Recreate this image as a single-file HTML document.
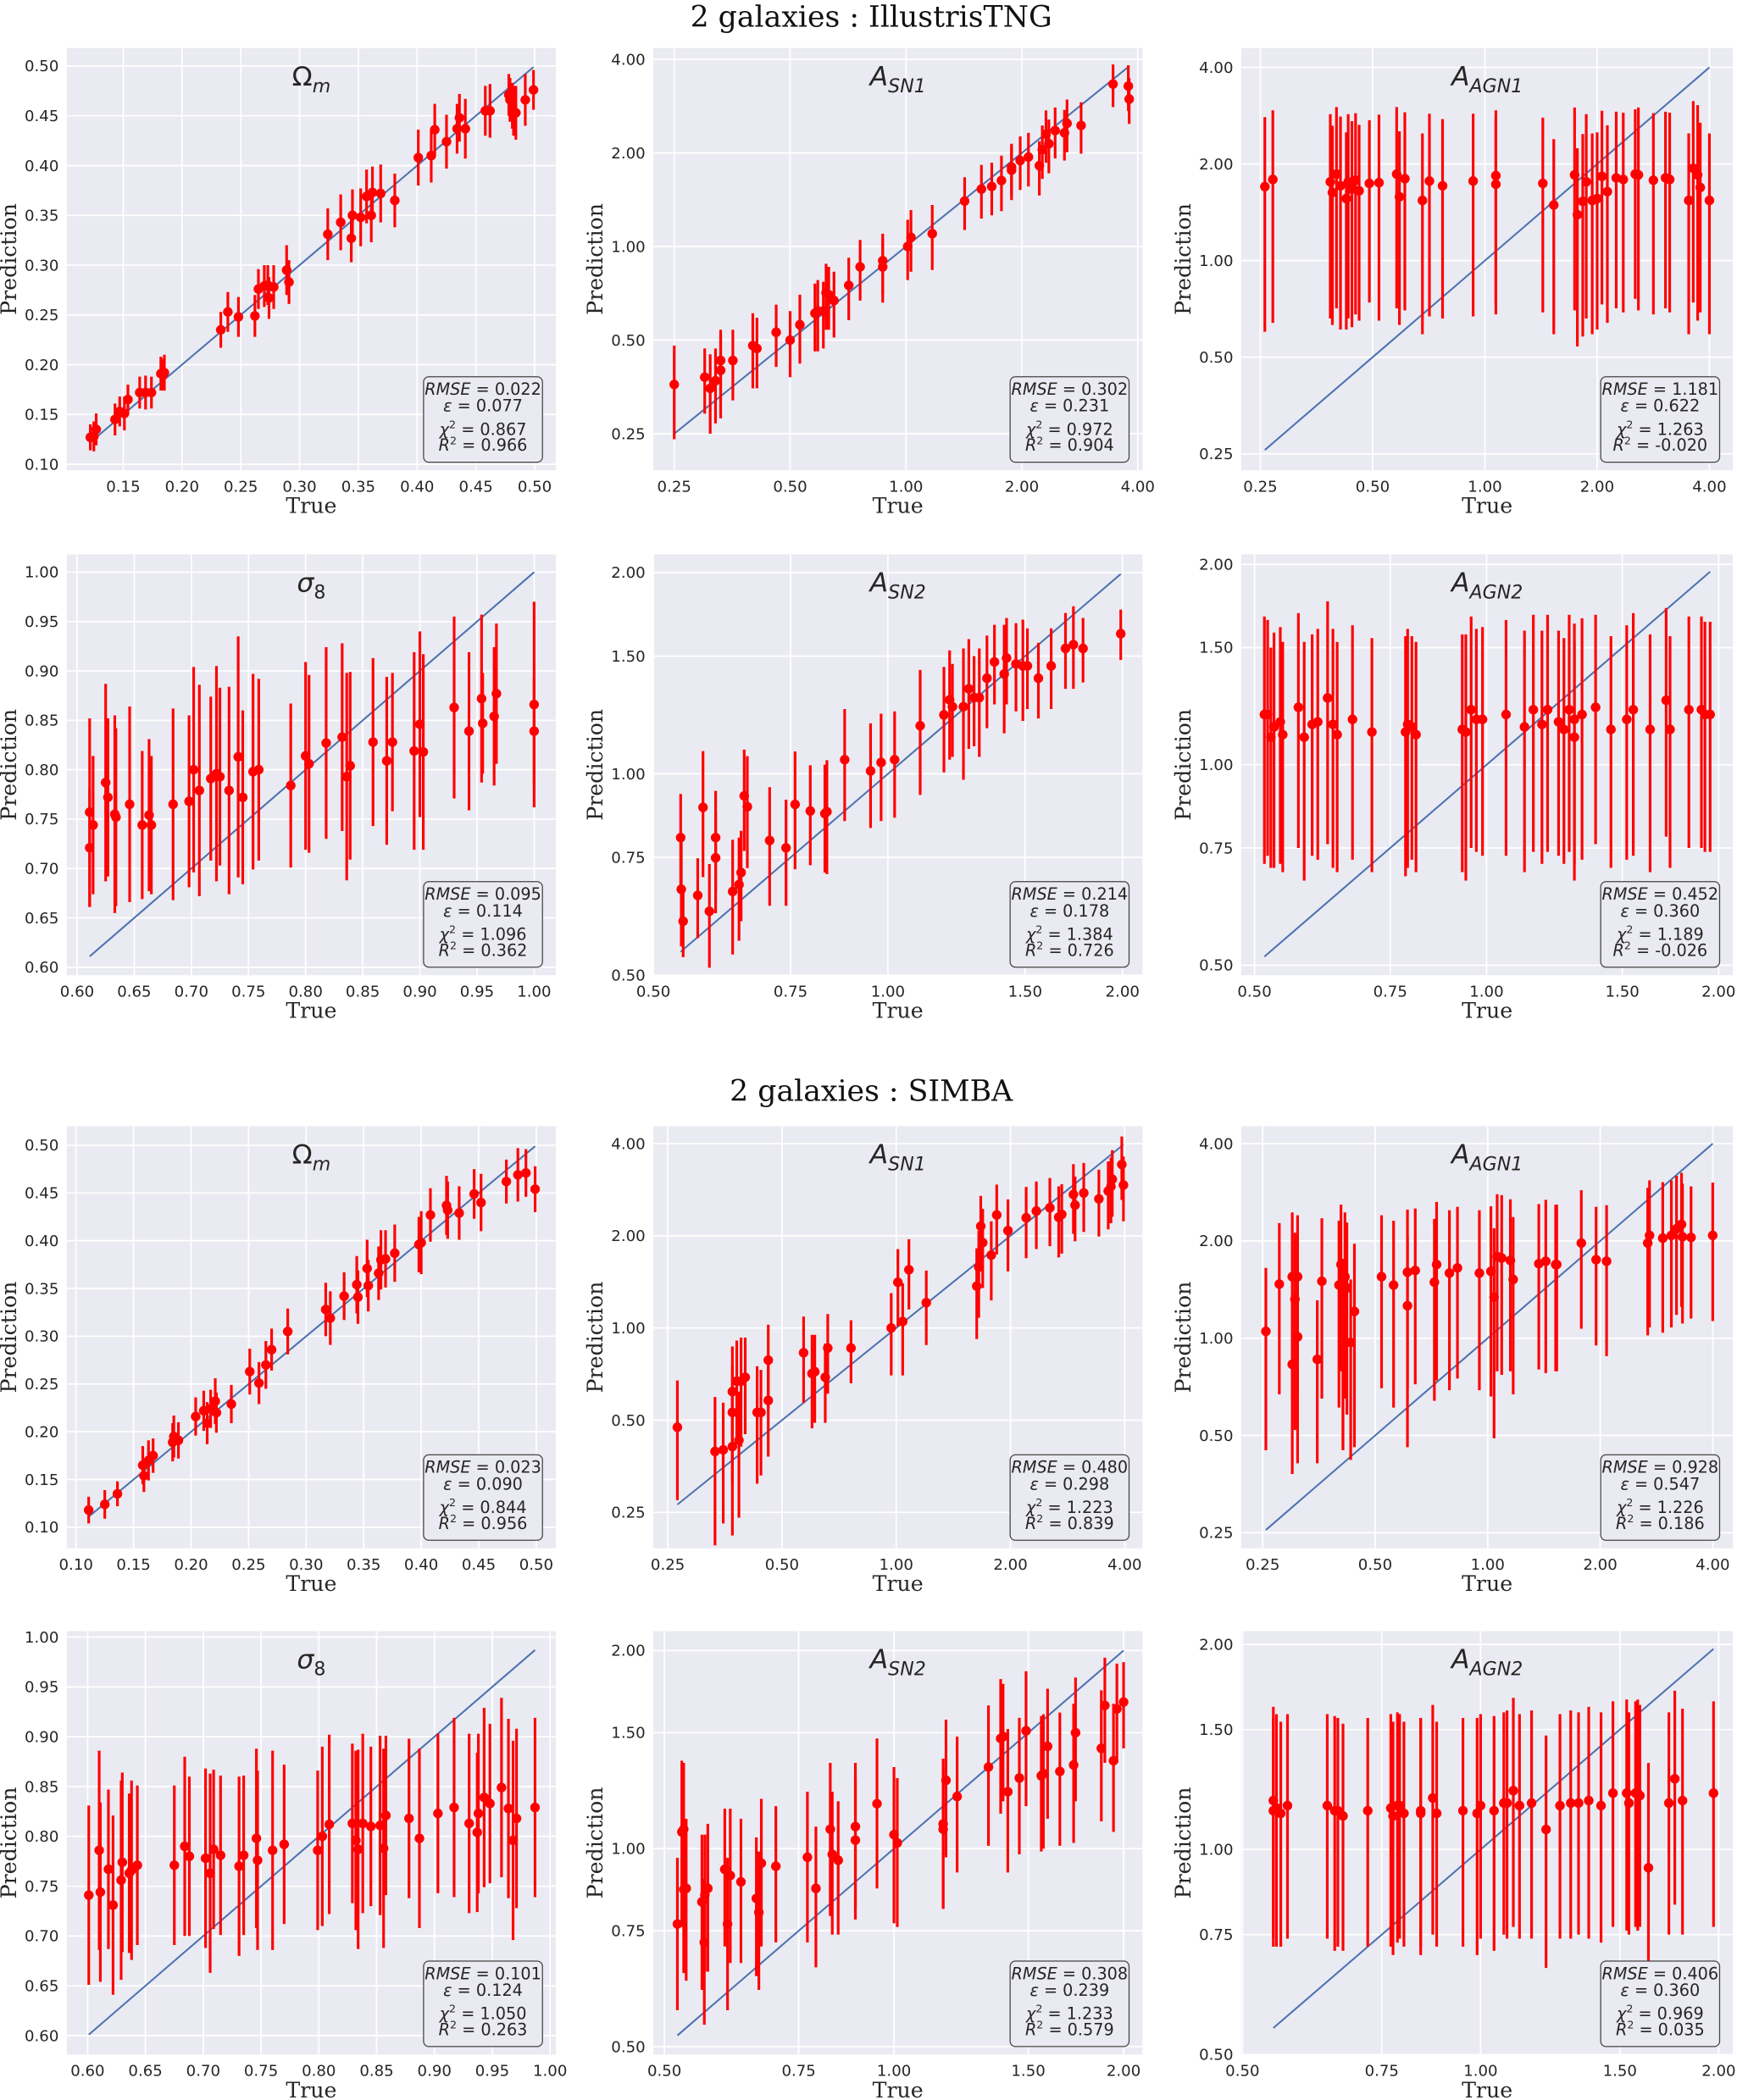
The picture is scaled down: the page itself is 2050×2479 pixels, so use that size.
<!DOCTYPE html>
<html><head><meta charset="utf-8">
<style>
html,body{margin:0;padding:0;background:#fff;}
svg{display:block;}
</style></head>
<body>
<svg id="fig" xmlns="http://www.w3.org/2000/svg" width="2050" height="2479" viewBox="0 0 1300 1572" preserveAspectRatio="none">
<text x="652" y="20" text-anchor="middle" font-family="DejaVu Serif, Liberation Serif, serif" font-size="22" fill="#111">2 galaxies : IllustrisTNG</text>
<text x="652" y="824" text-anchor="middle" font-family="DejaVu Serif, Liberation Serif, serif" font-size="22" fill="#111">2 galaxies : SIMBA</text>
</svg>
<script>
// ---------- DATA ----------
const tngOmTrue=[0.122,0.125,0.127,0.143,0.147,0.151,0.154,0.164,0.169,0.174,0.182,0.184,0.185,0.233,0.239,0.248,0.262,0.265,0.27,0.273,0.274,0.278,0.289,0.291,0.324,0.335,0.344,0.345,0.352,0.357,0.361,0.362,0.369,0.381,0.401,0.412,0.415,0.425,0.434,0.436,0.441,0.458,0.462,0.478,0.479,0.481,0.482,0.484,0.492,0.499];
const tngOmPred=[0.127,0.128,0.135,0.145,0.153,0.151,0.165,0.172,0.172,0.172,0.191,0.19,0.192,0.235,0.253,0.248,0.249,0.276,0.279,0.28,0.267,0.278,0.295,0.283,0.331,0.343,0.327,0.35,0.348,0.369,0.35,0.373,0.372,0.365,0.408,0.41,0.436,0.424,0.437,0.448,0.437,0.455,0.455,0.471,0.466,0.46,0.455,0.453,0.466,0.476];
const tngOmErr=[0.013,0.015,0.016,0.016,0.015,0.017,0.015,0.016,0.017,0.016,0.017,0.016,0.018,0.018,0.02,0.02,0.021,0.02,0.021,0.02,0.021,0.022,0.025,0.022,0.026,0.028,0.024,0.026,0.029,0.027,0.027,0.026,0.029,0.027,0.028,0.027,0.026,0.027,0.025,0.024,0.03,0.025,0.027,0.021,0.022,0.023,0.025,0.027,0.026,0.02];

const tngSN1True=[0.25,0.30,0.31,0.32,0.33,0.33,0.355,0.40,0.41,0.46,0.50,0.53,0.58,0.59,0.61,0.62,0.63,0.65,0.71,0.76,0.87,0.87,1.01,1.03,1.17,1.42,1.57,1.67,1.77,1.88,1.88,1.98,2.08,2.22,2.26,2.35,2.31,2.44,2.58,2.62,2.85,3.45,3.78,3.80];
const tngSN1Pred=[0.36,0.38,0.35,0.37,0.43,0.40,0.43,0.48,0.47,0.53,0.50,0.56,0.61,0.62,0.62,0.71,0.70,0.67,0.75,0.86,0.86,0.90,1.0,1.07,1.10,1.40,1.53,1.56,1.63,1.76,1.80,1.89,1.94,1.82,2.05,2.14,2.30,2.36,2.32,2.49,2.45,3.33,3.28,2.98];
const tngSN1Err=[0.12,0.09,0.1,0.1,0.11,0.12,0.11,0.13,0.12,0.12,0.12,0.14,0.15,0.16,0.15,0.17,0.16,0.16,0.17,0.19,0.2,0.2,0.22,0.24,0.26,0.27,0.3,0.3,0.33,0.35,0.34,0.37,0.38,0.36,0.4,0.42,0.44,0.44,0.43,0.48,0.46,0.52,0.55,0.5];

const tngAGN1True=[0.257,0.27,0.385,0.39,0.40,0.41,0.425,0.43,0.44,0.45,0.46,0.49,0.52,0.58,0.59,0.61,0.68,0.71,0.77,0.93,1.07,1.07,1.43,1.53,1.74,1.77,1.83,1.87,1.94,2.0,2.06,2.13,2.25,2.35,2.53,2.58,2.83,3.05,3.13,3.52,3.62,3.72,3.78,4.0];
const tngAGN1Pred=[1.70,1.79,1.76,1.63,1.86,1.71,1.56,1.76,1.67,1.78,1.65,1.74,1.75,1.86,1.58,1.80,1.54,1.77,1.71,1.77,1.84,1.73,1.74,1.49,1.85,1.39,1.53,1.76,1.54,1.56,1.83,1.64,1.81,1.79,1.86,1.85,1.78,1.81,1.79,1.54,1.94,1.85,1.69,1.54];
const tngAGN1Err=[1.1,1.15,1.1,1.0,1.15,1.1,0.95,1.1,1.05,1.1,1.0,1.0,1.1,1.15,0.95,1.1,0.95,1.1,1.05,1.1,1.1,1.05,1.05,0.9,1.15,0.85,0.95,1.1,0.95,0.95,1.1,1.0,1.1,1.1,1.1,1.15,1.1,1.1,1.1,0.95,1.2,1.2,1.0,0.95];

const tngS8True=[0.611,0.611,0.614,0.625,0.627,0.633,0.634,0.646,0.657,0.663,0.665,0.684,0.698,0.702,0.707,0.717,0.722,0.725,0.733,0.741,0.745,0.754,0.759,0.787,0.8,0.803,0.818,0.832,0.836,0.839,0.859,0.871,0.876,0.895,0.9,0.903,0.93,0.943,0.954,0.955,0.965,0.967,1.0,1.0];
const tngS8Pred=[0.757,0.721,0.744,0.787,0.772,0.755,0.752,0.765,0.744,0.754,0.744,0.765,0.768,0.80,0.779,0.791,0.796,0.793,0.779,0.813,0.772,0.798,0.80,0.784,0.814,0.806,0.827,0.833,0.793,0.804,0.828,0.809,0.828,0.819,0.846,0.818,0.863,0.839,0.872,0.847,0.854,0.877,0.866,0.839];
const tngS8Err=[0.095,0.06,0.07,0.10,0.08,0.10,0.09,0.099,0.075,0.077,0.07,0.097,0.087,0.104,0.107,0.083,0.109,0.09,0.105,0.122,0.088,0.099,0.092,0.083,0.095,0.09,0.097,0.095,0.105,0.095,0.085,0.085,0.07,0.1,0.094,0.099,0.092,0.08,0.085,0.051,0.07,0.071,0.104,0.054];

const tngSN2True=[0.542,0.543,0.546,0.57,0.579,0.59,0.601,0.601,0.632,0.644,0.648,0.654,0.66,0.705,0.74,0.76,0.795,0.83,0.835,0.88,0.95,0.98,1.02,1.1,1.18,1.2,1.21,1.25,1.27,1.29,1.31,1.34,1.37,1.41,1.42,1.46,1.49,1.51,1.56,1.62,1.69,1.73,1.78,1.99];
const tngSN2Pred=[0.803,0.672,0.602,0.658,0.891,0.623,0.749,0.803,0.667,0.683,0.712,0.927,0.893,0.795,0.775,0.90,0.88,0.872,0.878,1.05,1.01,1.04,1.05,1.18,1.225,1.29,1.26,1.26,1.34,1.3,1.3,1.39,1.47,1.41,1.49,1.46,1.45,1.45,1.39,1.45,1.54,1.56,1.54,1.62];
const tngSN2Err=[0.13,0.12,0.07,0.09,0.19,0.11,0.13,0.14,0.13,0.12,0.11,0.16,0.17,0.16,0.14,0.18,0.15,0.16,0.17,0.2,0.18,0.19,0.19,0.25,0.22,0.24,0.2,0.28,0.25,0.2,0.24,0.22,0.2,0.26,0.22,0.22,0.25,0.2,0.18,0.2,0.2,0.22,0.17,0.14];

const tngAGN2True=[0.515,0.52,0.525,0.53,0.54,0.544,0.57,0.58,0.594,0.604,0.622,0.632,0.64,0.67,0.71,0.785,0.79,0.80,0.81,0.93,0.94,0.955,0.97,0.988,1.06,1.12,1.15,1.18,1.2,1.24,1.26,1.28,1.3,1.3,1.33,1.385,1.45,1.52,1.55,1.63,1.71,1.73,1.83,1.9,1.92,1.95];
const tngAGN2Pred=[1.19,1.19,1.10,1.14,1.16,1.11,1.22,1.10,1.15,1.16,1.26,1.15,1.11,1.17,1.12,1.12,1.15,1.14,1.11,1.13,1.12,1.21,1.17,1.17,1.19,1.14,1.21,1.15,1.21,1.16,1.13,1.21,1.17,1.10,1.19,1.22,1.13,1.17,1.21,1.13,1.25,1.13,1.21,1.21,1.19,1.19];
const tngAGN2Err=[0.48,0.46,0.4,0.44,0.45,0.42,0.47,0.43,0.42,0.44,0.5,0.45,0.42,0.45,0.43,0.44,0.45,0.42,0.42,0.44,0.45,0.46,0.43,0.44,0.46,0.45,0.47,0.44,0.47,0.43,0.42,0.47,0.46,0.43,0.47,0.46,0.43,0.45,0.48,0.44,0.47,0.43,0.46,0.46,0.45,0.45];

const simOmTrue=[0.111,0.125,0.136,0.158,0.159,0.163,0.167,0.184,0.185,0.189,0.204,0.211,0.214,0.217,0.221,0.222,0.235,0.251,0.259,0.265,0.27,0.284,0.317,0.321,0.333,0.344,0.345,0.353,0.354,0.363,0.365,0.369,0.377,0.398,0.4,0.408,0.422,0.423,0.433,0.446,0.452,0.474,0.484,0.491,0.499];
const simOmPred=[0.118,0.124,0.135,0.165,0.154,0.17,0.175,0.189,0.195,0.191,0.216,0.222,0.209,0.224,0.232,0.22,0.229,0.263,0.251,0.27,0.286,0.305,0.328,0.319,0.342,0.354,0.341,0.371,0.353,0.366,0.38,0.381,0.387,0.396,0.398,0.427,0.437,0.432,0.429,0.449,0.44,0.462,0.469,0.471,0.454];
const simOmErr=[0.014,0.015,0.013,0.02,0.017,0.021,0.018,0.02,0.022,0.019,0.02,0.021,0.022,0.02,0.024,0.021,0.02,0.024,0.022,0.025,0.022,0.024,0.028,0.028,0.025,0.03,0.028,0.03,0.027,0.028,0.031,0.03,0.03,0.029,0.033,0.028,0.031,0.03,0.028,0.026,0.03,0.023,0.028,0.025,0.024];

const simSN1True=[0.265,0.333,0.35,0.37,0.37,0.37,0.38,0.385,0.39,0.40,0.43,0.44,0.46,0.46,0.57,0.60,0.61,0.65,0.66,0.76,0.97,1.01,1.04,1.08,1.2,1.63,1.65,1.67,1.69,1.78,1.84,1.97,2.2,2.34,2.54,2.68,2.73,2.93,2.96,3.12,3.42,3.62,3.68,3.71,3.93,3.97];
const simSN1Pred=[0.474,0.395,0.40,0.41,0.62,0.53,0.67,0.43,0.67,0.69,0.53,0.53,0.58,0.785,0.83,0.71,0.72,0.69,0.86,0.86,1.0,1.41,1.05,1.55,1.21,1.37,1.58,2.15,1.90,1.73,2.34,2.08,2.29,2.41,2.47,2.3,2.35,2.73,2.52,2.76,2.64,2.8,2.9,3.06,3.42,2.93];
const simSN1Err=[0.2,0.2,0.17,0.2,0.25,0.22,0.24,0.19,0.26,0.24,0.22,0.2,0.2,0.24,0.26,0.24,0.23,0.2,0.25,0.2,0.3,0.4,0.35,0.4,0.33,0.45,0.5,0.55,0.55,0.5,0.6,0.55,0.6,0.6,0.62,0.6,0.6,0.7,0.6,0.7,0.65,0.7,0.7,0.75,0.8,0.7];

const simAGN1True=[0.255,0.277,0.30,0.30,0.305,0.31,0.31,0.35,0.36,0.40,0.405,0.41,0.41,0.415,0.42,0.43,0.44,0.52,0.56,0.61,0.61,0.64,0.72,0.73,0.79,0.83,0.95,1.02,1.04,1.06,1.09,1.15,1.17,1.37,1.43,1.52,1.53,1.78,1.95,2.08,2.68,2.71,2.94,3.1,3.2,3.3,3.32,3.5,4.0];
const simAGN1Pred=[1.05,1.47,0.83,1.55,1.32,1.55,1.01,0.86,1.50,1.46,1.69,1.11,1.05,1.55,1.43,0.97,1.21,1.55,1.46,1.60,1.26,1.62,1.49,1.69,1.59,1.65,1.59,1.61,1.34,1.79,1.77,1.74,1.52,1.70,1.73,1.69,1.69,1.97,1.75,1.73,1.97,2.08,2.04,2.08,2.18,2.25,2.06,2.05,2.08];
const simAGN1Err=[0.6,0.8,0.45,0.9,0.8,0.85,0.6,0.45,0.85,0.85,0.9,0.65,0.6,0.9,0.85,0.55,0.75,0.85,0.85,0.9,0.8,0.9,0.85,0.95,0.9,0.9,0.9,0.95,0.85,1.0,1.0,0.95,0.85,0.9,0.95,0.9,0.9,0.9,0.8,0.85,0.95,1.0,1.0,1.0,1.0,1.0,0.95,0.9,0.95];

const simS8True=[0.601,0.61,0.611,0.618,0.622,0.629,0.63,0.636,0.638,0.643,0.675,0.684,0.688,0.702,0.706,0.709,0.715,0.731,0.735,0.746,0.747,0.76,0.77,0.799,0.803,0.809,0.829,0.832,0.834,0.838,0.845,0.853,0.856,0.858,0.878,0.887,0.903,0.917,0.93,0.937,0.938,0.943,0.948,0.958,0.964,0.968,0.971,0.987];
const simS8Pred=[0.741,0.786,0.744,0.767,0.731,0.756,0.774,0.763,0.766,0.771,0.771,0.79,0.78,0.778,0.763,0.787,0.781,0.77,0.781,0.798,0.776,0.786,0.792,0.786,0.80,0.812,0.813,0.796,0.787,0.813,0.81,0.811,0.788,0.821,0.818,0.798,0.823,0.829,0.813,0.804,0.823,0.839,0.833,0.849,0.828,0.796,0.818,0.829];
const simS8Err=[0.09,0.1,0.09,0.08,0.09,0.1,0.09,0.08,0.09,0.08,0.08,0.09,0.08,0.09,0.1,0.08,0.08,0.09,0.08,0.09,0.09,0.1,0.08,0.08,0.09,0.09,0.08,0.09,0.1,0.09,0.08,0.09,0.1,0.08,0.08,0.09,0.08,0.09,0.09,0.08,0.08,0.09,0.08,0.09,0.09,0.1,0.09,0.09];

const simSN2True=[0.52,0.527,0.53,0.53,0.534,0.56,0.564,0.565,0.57,0.60,0.605,0.61,0.63,0.66,0.665,0.67,0.70,0.77,0.79,0.825,0.83,0.845,0.89,0.89,0.95,1.0,1.01,1.16,1.16,1.17,1.21,1.33,1.38,1.39,1.41,1.46,1.49,1.56,1.57,1.59,1.65,1.72,1.73,1.87,1.89,1.94,1.96,2.0];
const simSN2Pred=[0.768,1.06,1.07,0.867,0.87,0.83,0.72,0.85,0.87,0.93,0.768,0.91,0.89,0.84,0.80,0.95,0.94,0.97,0.87,1.07,0.98,0.96,1.08,1.03,1.17,1.05,1.02,1.09,1.07,1.27,1.2,1.33,1.47,1.48,1.22,1.28,1.51,1.29,1.30,1.43,1.31,1.34,1.5,1.42,1.65,1.36,1.63,1.67];
const simSN2Err=[0.2,0.3,0.28,0.22,0.24,0.22,0.18,0.2,0.22,0.22,0.2,0.24,0.22,0.2,0.19,0.24,0.22,0.25,0.21,0.28,0.24,0.22,0.27,0.25,0.3,0.28,0.26,0.28,0.26,0.3,0.28,0.32,0.34,0.3,0.3,0.3,0.35,0.3,0.3,0.32,0.3,0.32,0.32,0.32,0.3,0.3,0.28,0.25];

const simAGN2True=[0.547,0.547,0.552,0.559,0.57,0.64,0.654,0.66,0.67,0.72,0.77,0.775,0.785,0.79,0.80,0.84,0.84,0.87,0.88,0.95,0.99,1.0,1.04,1.07,1.08,1.1,1.12,1.16,1.21,1.26,1.30,1.33,1.37,1.42,1.47,1.53,1.54,1.57,1.58,1.59,1.63,1.73,1.76,1.8,1.97];
const simAGN2Pred=[1.18,1.14,1.15,1.13,1.16,1.16,1.14,1.14,1.12,1.14,1.15,1.12,1.16,1.16,1.13,1.14,1.13,1.19,1.13,1.14,1.13,1.16,1.14,1.17,1.17,1.22,1.16,1.17,1.07,1.16,1.17,1.17,1.18,1.16,1.21,1.21,1.17,1.21,1.21,1.20,0.94,1.17,1.27,1.18,1.21];
const simAGN2Err=[0.44,0.42,0.43,0.41,0.42,0.42,0.43,0.42,0.41,0.42,0.43,0.42,0.43,0.42,0.41,0.42,0.43,0.44,0.41,0.42,0.43,0.42,0.43,0.42,0.43,0.45,0.42,0.43,0.4,0.42,0.43,0.42,0.44,0.43,0.44,0.45,0.42,0.44,0.45,0.43,0.4,0.42,0.44,0.43,0.44];

const linTicksOm1=[0.10,0.15,0.20,0.25,0.30,0.35,0.40,0.45,0.50];
const linTicksS8=[0.60,0.65,0.70,0.75,0.80,0.85,0.90,0.95,1.00];
const logTicks1=[0.25,0.5,1,2,4];
const logTicks2=[0.5,0.75,1,1.5,2];

const statsTNG=[["0.022","0.077","0.867","0.966"],["0.302","0.231","0.972","0.904"],["1.181","0.622","1.263","-0.020"],["0.095","0.114","1.096","0.362"],["0.214","0.178","1.384","0.726"],["0.452","0.360","1.189","-0.026"]];
const statsSIM=[["0.023","0.090","0.844","0.956"],["0.480","0.298","1.223","0.839"],["0.928","0.547","1.226","0.186"],["0.101","0.124","1.050","0.263"],["0.308","0.239","1.233","0.579"],["0.406","0.360","0.969","0.035"]];

// ---------- LAYOUT ----------
const NS="http://www.w3.org/2000/svg";
const svg=document.getElementById('fig');
const colX=[[50,416],[489,855],[929,1297]];
const rowY=[[36,352],[415,730],[843,1159],[1221,1538]];
const P=Math.pow;
const panels=[
 {r:0,c:0,t:tngOmTrue,p:tngOmPred,e:tngOmErr,log:false,xl:[0.102,0.518],yl:[0.094,0.518],xt:linTicksOm1.slice(1),yt:linTicksOm1,title:'om',st:statsTNG[0],nm:'tng-omega-m'},
 {r:0,c:1,t:tngSN1True,p:tngSN1Pred,e:tngSN1Err,log:true,xl:[P(2,-2.18),P(2,2.04)],yl:[P(2,-2.39),P(2,2.12)],xt:logTicks1,yt:logTicks1,title:'SN1',st:statsTNG[1],nm:'tng-a-sn1'},
 {r:0,c:2,t:tngAGN1True,p:tngAGN1Pred,e:tngAGN1Err,log:true,xl:[P(2,-2.17),P(2,2.21)],yl:[P(2,-2.17),P(2,2.2)],xt:logTicks1,yt:logTicks1,title:'AGN1',st:statsTNG[2],nm:'tng-a-agn1'},
 {r:1,c:0,t:tngS8True,p:tngS8Pred,e:tngS8Err,log:false,xl:[0.591,1.019],yl:[0.592,1.018],xt:linTicksS8,yt:linTicksS8,title:'s8',st:statsTNG[3],nm:'tng-sigma-8'},
 {r:1,c:1,t:tngSN2True,p:tngSN2Pred,e:tngSN2Err,log:true,xl:[P(2,-1),P(2,1.085)],yl:[P(2,-1),P(2,1.09)],xt:logTicks2,yt:logTicks2,title:'SN2',st:statsTNG[4],nm:'tng-a-sn2'},
 {r:1,c:2,t:tngAGN2True,p:tngAGN2Pred,e:tngAGN2Err,log:true,xl:[P(2,-1.057),P(2,1.062)],yl:[P(2,-1.05),P(2,1.05)],xt:logTicks2,yt:logTicks2,title:'AGN2',st:statsTNG[5],nm:'tng-a-agn2'},
 {r:2,c:0,t:simOmTrue,p:simOmPred,e:simOmErr,log:false,xl:[0.092,0.517],yl:[0.078,0.52],xt:linTicksOm1,yt:linTicksOm1,title:'om',st:statsSIM[0],nm:'simba-omega-m'},
 {r:2,c:1,t:simSN1True,p:simSN1Pred,e:simSN1Err,log:true,xl:[P(2,-2.126),P(2,2.155)],yl:[P(2,-2.39),P(2,2.19)],xt:logTicks1,yt:logTicks1,title:'SN1',st:statsSIM[1],nm:'simba-a-sn1'},
 {r:2,c:2,t:simAGN1True,p:simAGN1Pred,e:simAGN1Err,log:true,xl:[P(2,-2.19),P(2,2.18)],yl:[P(2,-2.16),P(2,2.18)],xt:logTicks1,yt:logTicks1,title:'AGN1',st:statsSIM[2],nm:'simba-a-agn1'},
 {r:3,c:0,t:simS8True,p:simS8Pred,e:simS8Err,log:false,xl:[0.582,1.005],yl:[0.581,1.006],xt:linTicksS8,yt:linTicksS8,title:'s8',st:statsSIM[3],nm:'simba-sigma-8'},
 {r:3,c:1,t:simSN2True,p:simSN2Pred,e:simSN2Err,log:true,xl:[P(2,-1.048),P(2,1.082)],yl:[P(2,-1.04),P(2,1.098)],xt:logTicks2,yt:logTicks2,title:'SN2',st:statsSIM[4],nm:'simba-a-sn2'},
 {r:3,c:2,t:simAGN2True,p:simAGN2Pred,e:simAGN2Err,log:true,xl:[P(2,-1.005),P(2,1.06)],yl:[P(2,-1),P(2,1.065)],xt:logTicks2,yt:logTicks2,title:'AGN2',st:statsSIM[5],nm:'simba-a-agn2'}
];

function mk(tag,attrs,parent){const el=document.createElementNS(NS,tag);for(const k in attrs)el.setAttribute(k,attrs[k]);(parent||svg).appendChild(el);return el;}
const SANS='DejaVu Sans, Liberation Sans, sans-serif';
const SERIF='DejaVu Serif, Liberation Serif, serif';

panels.forEach((pn,idx)=>{
  const [x0,x1]=colX[pn.c],[y0,y1]=rowY[pn.r];
  const tf=v=>pn.log?Math.log(v):v;
  const sx=v=>x0+(tf(v)-tf(pn.xl[0]))/(tf(pn.xl[1])-tf(pn.xl[0]))*(x1-x0);
  const sy=v=>y1-(tf(v)-tf(pn.yl[0]))/(tf(pn.yl[1])-tf(pn.yl[0]))*(y1-y0);
  const g=mk('g',{});
  
  
  const bg=mk('rect',{x:x0,y:y0,width:x1-x0,height:y1-y0,fill:'#EAEAF2'},g);
  
  
  const cp=mk('clipPath',{id:'cp'+idx},g);
  mk('rect',{x:x0,y:y0,width:x1-x0,height:y1-y0},cp);
  pn.xt.forEach(v=>{const X=sx(v);
    const gl=mk('line',{x1:X,x2:X,y1:y0,y2:y1,stroke:'#fff','stroke-width':1.1},g);
    
    
    const tl=mk('text',{x:X,y:y1+16,'text-anchor':'middle','font-family':SANS,'font-size':11.5,fill:'#262626'},g);
    tl.textContent=v.toFixed(2);
    
    
  });
  pn.yt.forEach(v=>{const Y=sy(v);
    const gl=mk('line',{x1:x0,x2:x1,y1:Y,y2:Y,stroke:'#fff','stroke-width':1.1},g);
    
    
    const tl=mk('text',{x:x0-6,y:Y+4,'text-anchor':'end','font-family':SANS,'font-size':11.5,fill:'#262626'},g);
    tl.textContent=v.toFixed(2);
    
    
  });
  const lo=Math.min(...pn.t),hi=Math.max(...pn.t);
  const dl=mk('line',{x1:sx(lo),y1:sy(lo),x2:sx(hi),y2:sy(hi),stroke:'#4C72B0','stroke-width':1.3},g);
  
  
  const mg=mk('g',{'clip-path':'url(#cp'+idx+')'},g);
  
  
  pn.t.forEach((tv,i)=>{
    const pv=pn.p[i],ev=pn.e[i];
    const top=pv+ev,bot=Math.max(pv-ev,pn.yl[0]*0.5);
    const X=sx(tv);
    const eb=mk('line',{x1:X,x2:X,y1:sy(top),y2:sy(bot),stroke:'#ff0000','stroke-width':2},mg);
    
    
    const pt=mk('circle',{cx:X,cy:sy(pv),r:3.6,fill:'#ff0000'},mg);
    
    
  });
  const cx=(x0+x1)/2, ty=y0+28;
  const tt=mk('text',{x:cx,y:ty,'text-anchor':'middle','font-family':SANS,'font-size':20,fill:'#262626'},g);
  
  
  if(pn.title==='om'){tt.innerHTML='Ω<tspan font-style="italic" font-size="14" dy="5">m</tspan>';}
  else if(pn.title==='s8'){tt.innerHTML='<tspan font-style="italic">σ</tspan><tspan font-size="14" dy="5">8</tspan>';}
  else {tt.innerHTML='<tspan font-style="italic">A</tspan><tspan font-style="italic" font-size="14" dy="5">'+pn.title+'</tspan>';}
  const xl=mk('text',{x:cx,y:y1+32,'text-anchor':'middle','font-family':SERIF,'font-size':16,fill:'#262626'},g);
  xl.textContent='True';
  
  
  const ylx=x0-38, yly=(y0+y1)/2;
  const yl=mk('text',{x:ylx,y:yly,'text-anchor':'middle','font-family':SERIF,'font-size':16,fill:'#262626',transform:'rotate(-90 '+ylx+' '+yly+')'},g);
  yl.textContent='Prediction';
  
  
  const bx=x1-99,by=y1-70,bw=89,bh=64;
  const sb=mk('g',{},g);
  
  
  mk('rect',{x:bx,y:by,width:bw,height:bh,rx:4,fill:'#EAEAF2',stroke:'#444','stroke-width':0.8},sb);
  const lines=[
    '<tspan font-style="italic">RMSE</tspan> = '+pn.st[0],
    '<tspan font-style="italic">ε</tspan> = '+pn.st[1],
    '<tspan font-style="italic">χ</tspan><tspan font-size="8" dy="-5">2</tspan><tspan dy="5"> = '+pn.st[2]+'</tspan>',
    '<tspan font-style="italic">R</tspan><tspan font-size="8" dy="-5">2</tspan><tspan dy="5"> = '+pn.st[3]+'</tspan>'
  ];
  const offs=[13.5,26,43.5,55.5];
  lines.forEach((h,i)=>{
    const tx=mk('text',{x:bx+bw/2,y:by+offs[i],'text-anchor':'middle','font-family':SANS,'font-size':12.2,fill:'#262626'},sb);
    tx.innerHTML=h;
    
    
  });
});
</script>
</body></html>
